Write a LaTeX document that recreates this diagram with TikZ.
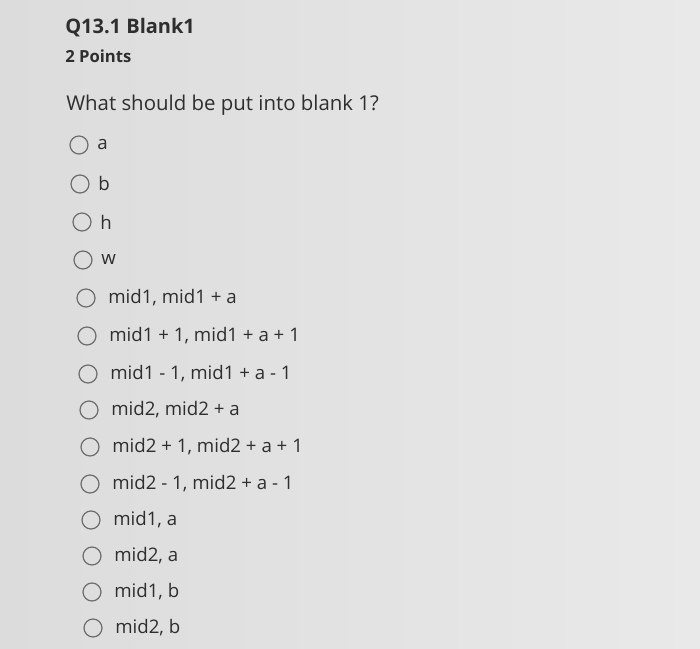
\documentclass[tikz,border=0pt]{standalone}
\usepackage{fontspec}
\setmainfont{Open Sans}
\definecolor{txt}{HTML}{2E2E2E}
\definecolor{bgl}{HTML}{DCDCDC}
\definecolor{bgr}{HTML}{E9E9E9}
\begin{document}
\begin{tikzpicture}[x=0.75pt,y=-0.75pt,
  radio/.style={circle,draw=txt!70,line width=0.9pt,minimum size=13.5pt,inner sep=0pt},
  opt/.style={anchor=west,text=txt,font=\fontsize{14pt}{16pt}\selectfont,inner sep=0pt}]
\shade[left color=bgl,right color=bgr] (0,0) rectangle (700,649);
\useasboundingbox (0,0) rectangle (700,649);
\node[anchor=west,text=txt,inner sep=0pt,font=\fontsize{15pt}{17pt}\selectfont\bfseries] (title) at (65,28) {Q13.1 Blank1};
\node[anchor=west,text=txt,inner sep=0pt,font=\fontsize{12.5pt}{14pt}\selectfont\bfseries] (pts) at (65,56) {2 Points};
\node[anchor=west,text=txt,inner sep=0pt,font=\fontsize{15.3pt}{17pt}\selectfont] (q) at (66,105) {What should be put into blank 1?};
\foreach \i/\cx/\cy/\tx/\t in {1/79/145/18/a,2/80/184/18/b,3/82/222/18/h,4/83/260/18/w,
  5/86/298/22/{mid1, mid1 + a},6/87/336/22/{mid1 + 1, mid1 + a + 1},7/88/374/22/{mid1 - 1, mid1 + a - 1},
  8/89/410/22/{mid2, mid2 + a},9/90/447/22/{mid2 + 1, mid2 + a + 1},10/90/484/22/{mid2 - 1, mid2 + a - 1},
  11/91/520/22/{mid1, a},12/92/556/22/{mid2, a},13/92/592/22/{mid1, b},14/93/628/22/{mid2, b}}{
  \node[radio] (r\i) at (\cx,\cy) {};
  \node[opt] (o\i) at ([xshift=\tx*0.75pt]r\i.center) {\t};
}
\end{tikzpicture}
\end{document}
